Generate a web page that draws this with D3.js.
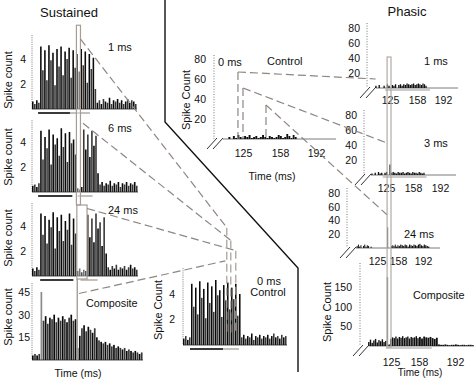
<!DOCTYPE html>
<html><head><meta charset="utf-8">
<script src="https://cdn.jsdelivr.net/npm/d3@7"></script>
<style>body{margin:0;background:#fff}svg{display:block}</style>
</head><body><svg id="c" width="474" height="381"></svg>
<script>
// ---------------- DATA ----------------
// Sustained histograms (52 bins each, spike counts)
const sust1ms = [0.6,0.4,0.7,0.5,
  5.0,3.1,4.7,2.3,5.1,3.9,4.5,1.9,4.8,3.4,5.0,2.7,4.6,4.0,4.9,2.5,4.7,3.3,
  4.4,3.0,
  4.8,3.5,4.6,2.1,4.4,3.2,4.1,1.6,
  0.5,0.7,0.4,0.8,0.6,0.5,0.9,0.4,0.7,0.6,0.8,0.5,0.7,0.4,0.6,0.8,0.5,0.7,0.6,0.4];
const sust6ms = [0.5,0.6,0.4,0.7,
  4.9,2.6,4.4,3.5,5.0,2.2,4.6,3.8,4.3,2.9,5.1,3.6,4.7,2.4,4.8,3.9,4.2,3.0,
  0.3,0.2,0.4,
  5.0,3.4,4.6,2.8,4.9,3.7,4.5,1.5,
  0.6,0.8,0.5,0.7,0.6,0.9,0.5,0.7,0.6,0.8,0.4,0.7,0.6,0.8,0.5,0.7,0.6,0.8,0.5];
const sust24ms = [0.6,0.4,0.7,0.5,
  5.0,3.3,4.8,2.6,4.5,3.9,5.1,2.2,4.7,3.6,4.9,2.8,4.4,3.7,5.0,2.5,4.6,3.4,
  0.4,0.6,0.3,0.5,0.4,
  4.9,3.1,4.6,2.7,5.0,3.8,4.3,2.4,4.7,1.8,
  0.7,0.5,0.8,0.6,0.9,0.5,0.7,0.6,0.8,0.5,0.7,0.9,0.6,0.7,0.5];
const sustComposite = [3,4,3,4,
  45,
  26,29,24,28,27,30,25,28,26,29,27,25,28,30,26,27,
  8,
  16,21,23,19,22,20,18,21,15,
  13,12,11,12,10,11,9,10,8,9,8,7,8,6,7,6,5,6,5,4,5];
const sustControl = [0.5,0.7,0.4,0.6,
  4.8,3.0,4.5,2.4,5.0,3.7,4.4,2.1,4.9,3.3,4.6,2.6,5.1,3.9,4.3,2.2,4.7,3.5,4.9,2.8,4.5,3.6,4.8,2.3,4.0,
  0.6,0.8,0.5,0.7,0.6,0.9,0.4,0.7,0.6,0.8,0.5,0.7,0.6,0.8,0.5,0.7,0.9,0.6,0.7,0.5,0.8,0.6,0.7];
const sustTicks = [2, 4];
const sustCompTicks = [15, 30, 45];

// Phasic histograms (2 ms bins, start time in ms)
const binMs = 2;
const phControlStart = 112;
const phControl = [2,0,3,1,4,2,1,3,2,4,1,2,3,1,2,4,2,1,3,2,1,2,4,3,1,2,5,3,1,4,2];
const ph1msStart = 107;
const ph1ms = [3,0,4,0,0,3,0,5,3,0,4,3,5,0,4,5,3,5,4,6,5,4,5,6,4,5,6,5,4,6,5,3,0,0,0];
const ph3msStart = 107;
const ph3ms = [2,0,3,0,4,2,3,0,3,4,0,14,3,4,3,2,4,3,3,4,2,3,4,3,2,4,3,3,2,4,3,2,3,0,0];
const ph24msStart = 93;
const ph24ms = [3,5,2,4,0,3,5,2,4,3,0,2,
  0,0,0,0,0,0,0,0,0,0,0,0,
  30,0,0,3,
  4,3,5,2,4,3,5,4,3,5,4,2,5,4,3,5,4,3,5,6,4,3,5,4,3,2,0,0];
const phCompStart = 98;
const phComposite = [10,16,8,14,18,9,15,12,17,10,13,
  175,4,
  18,22,20,24,19,23,21,25,20,22,24,19,23,21,22,25,20,23,19,24,22,21,23,20,18,21,
  4,3,3,4,3,2,3,3,4,3,2,3,3,2,3,3,2];
const phTicks = [20, 40, 60, 80];
const phCompTicks = [50, 100, 150];
const timeTicks = [125, 158, 192];

// Stimulus bars (bin ranges) under sustained histograms
const stim1ms = [[3, 18.8], [18.8, 28.7]];
const stim6ms = [[3, 19.8], [22.3, 29.7]];
const stim24ms = [[4, 20.3], [23.8, 32.2]];
const stimControl = [[3.5, 20], [20, 28]];

// ---------------- DRAWING ----------------
const F = '"Liberation Sans", Arial, Helvetica, sans-serif';
const svg = d3.select("#c");
const INK = "#111";
const DASH = "#8e8682";
const fmt = d3.format("d");

function txt(s, x, y, size, anchor, rot) {
  const t = svg.append("text").text(s).attr("font-family", F).attr("font-size", size)
    .attr("fill", INK).attr("text-anchor", anchor || "start");
  if (rot) t.attr("transform", `translate(${x},${y}) rotate(-90)`).attr("dy", "0.35em");
  else t.attr("x", x).attr("y", y);
  return t;
}

function barColor(d, i) { return i % 2 ? "#383838" : "#0a0a0a"; }

function leftHist(c) {
  const x = d3.scaleLinear().domain([0, c.data.length]).range(c.xr);
  const y = d3.scaleLinear().domain(c.ydom).range(c.yr);
  const g = svg.append("g");
  g.append("line").attr("x1", c.xr[0]).attr("x2", c.xr[0]).attr("y1", c.top).attr("y2", y(0))
    .attr("stroke", "#888").attr("stroke-width", 0.9).attr("stroke-dasharray", "1.2,1");
  g.selectAll("rect.b").data(c.data).join("rect").attr("class", "b")
    .attr("x", (d, i) => x(i)).attr("width", (d, i) => x(i + 1) - x(i) - 0.45)
    .attr("y", d => y(d)).attr("height", d => y(0) - y(d))
    .attr("fill", c.color || barColor);
  g.append("line").attr("x1", c.xr[0]).attr("x2", c.xr[1]).attr("y1", y(0)).attr("y2", y(0))
    .attr("stroke", "#222").attr("stroke-width", 0.8);
  const ax = g.append("g").attr("transform", `translate(${c.tickEnd},0)`)
    .call(d3.axisLeft(y).tickValues(c.ticks).tickSize(0).tickPadding(0).tickFormat(fmt));
  ax.select(".domain").remove();
  ax.selectAll("text").attr("font-family", F).attr("font-size", 10.5).attr("fill", INK);
  if (c.stim) {
    g.selectAll("line.s").data(c.stim).join("line").attr("class", "s")
      .attr("x1", d => x(d[0])).attr("x2", d => x(d[1]))
      .attr("y1", y(0) + 4).attr("y2", y(0) + 4)
      .attr("stroke", (d, i) => i === 0 ? "#3a3a3a" : "#c4c0bc").attr("stroke-width", 2);
  }
  return { x, y };
}

function rightHist(c) {
  const x = d3.scaleLinear().domain(timeTicks).range(c.xr);
  const y = d3.scaleLinear().domain(c.ydom).range(c.yr);
  const g = svg.append("g");
  const b = y(0);
  g.append("line").attr("x1", c.axisX).attr("x2", c.axisX).attr("y1", c.top).attr("y2", b)
    .attr("stroke", "#777").attr("stroke-width", 1).attr("stroke-dasharray", "1,1.6");
  if (c.under) g.append("line").attr("x1", x(c.under[0])).attr("x2", x(c.under[1]))
    .attr("y1", b + 2).attr("y2", b + 2).attr("stroke", "#bdb8b4").attr("stroke-width", 1.6);
  g.append("line").attr("x1", c.b0).attr("x2", c.b1).attr("y1", b).attr("y2", b)
    .attr("stroke", "#7a7a7a").attr("stroke-width", 1);
  [0, 6].forEach(o => g.append("line")
    .attr("x1", c.b0 - 16 + o).attr("y1", b + 10).attr("x2", c.b0 - 6 + o).attr("y2", b - 1)
    .attr("stroke", "#333").attr("stroke-width", 1));
  g.selectAll("rect").data(c.data).join("rect")
    .attr("x", (d, i) => x(c.start + i * binMs))
    .attr("width", (d, i) => Math.max(0.8, x(c.start + (i + 1) * binMs) - x(c.start + i * binMs) - 0.3))
    .attr("y", d => y(d)).attr("height", d => b - y(d))
    .attr("fill", d => d > 100 ? "#7c7774" : (d > 12 && c.ydom[1] < 100 ? "#444" : "#111"));
  const ay = g.append("g").attr("transform", `translate(${c.tickEnd},0)`)
    .call(d3.axisLeft(y).tickValues(c.ticks).tickSize(0).tickPadding(0).tickFormat(fmt));
  ay.select(".domain").remove();
  ay.selectAll("text").attr("font-family", F).attr("font-size", 10.5).attr("fill", INK);
  const axb = g.append("g").attr("transform", `translate(0,${c.labelY})`)
    .call(d3.axisBottom(x).tickValues(timeTicks).tickSize(0).tickPadding(0).tickFormat(fmt));
  axb.select(".domain").remove();
  axb.selectAll("text").attr("dy", null).attr("y", 0)
    .attr("font-family", F).attr("font-size", 10.5).attr("fill", INK);
  return { x, y };
}

// ---- Sustained column ----
const s1 = leftHist({ data: sust1ms, xr: [32, 137], ydom: [0, 4], yr: [109, 59], top: 35, ticks: sustTicks, tickEnd: 26, stim: stim1ms });
const s2 = leftHist({ data: sust6ms, xr: [32, 138], ydom: [0, 4], yr: [192, 142], top: 120, ticks: sustTicks, tickEnd: 26, stim: stim6ms });
const s3 = leftHist({ data: sust24ms, xr: [32, 138], ydom: [0, 4], yr: [276, 226], top: 203, ticks: sustTicks, tickEnd: 26, stim: stim24ms });
const s4 = leftHist({ data: sustComposite, xr: [32, 143], ydom: [0, 45], yr: [360, 292], top: 283, ticks: sustCompTicks, tickEnd: 30,
  color: (d, i) => d > 40 ? "#8a8a8a" : barColor(d, i) });
const sc = leftHist({ data: sustControl, xr: [183, 287], ydom: [0, 4], yr: [345, 294], top: 268, ticks: sustTicks, tickEnd: 175, stim: stimControl });

// stimulus windows (sustained)
const WIN = "#a89c94";
svg.append("rect").attr("x", s1.x(22)).attr("y", s1.y(6.7)).attr("width", s1.x(24) - s1.x(22)).attr("height", 205 - s1.y(6.7))
  .attr("fill", "#fff").attr("fill-opacity", 0.35).attr("stroke", WIN).attr("stroke-width", 1.2);
svg.append("rect").attr("x", s3.x(22)).attr("y", 205).attr("width", s3.x(27) - s3.x(22)).attr("height", s3.y(0) + 3 - 205)
  .attr("fill", "#fff").attr("fill-opacity", 0.3).attr("stroke", WIN).attr("stroke-width", 1.2);
svg.append("line").attr("x1", s4.x(21.2)).attr("x2", s4.x(21.2)).attr("y1", s3.y(0) + 3).attr("y2", s4.y(0))
  .attr("stroke", WIN).attr("stroke-width", 1.4);

// dashed connectors (sustained -> control)
const dashed = (x1, y1, x2, y2, col) => svg.append("line").attr("x1", x1).attr("y1", y1).attr("x2", x2).attr("y2", y2)
  .attr("stroke", col || DASH).attr("stroke-width", 1.2).attr("stroke-dasharray", "8,4");
const conn = [
  [s1.x(24), s1.y(5.6), 21.9, 9.2, true],
  [s2.x(25), s2.y(5.5), 23.9, 8.2, true],
  [s3.x(27), s3.y(5.4), 26.4, 7.4, true],
  [s4.x(22), s4.y(44), 21.2, 6.6, false]
];
conn.forEach(c => {
  dashed(c[0], c[1], sc.x(c[2]), sc.y(c[3]));
  if (c[4]) dashed(sc.x(c[2]), sc.y(c[3]), sc.x(c[2]), sc.y(0.8), "#a49c98");
});

// ---- Phasic column ----
const pc = rightHist({ start: phControlStart, data: phControl, xr: [243, 280, 316], ydom: [0, 80], yr: [139, 59], axisX: 214, top: 55,
  b0: 223, b1: 336, ticks: phTicks, tickEnd: 206, labelY: 157 });
const p1 = rightHist({ start: ph1msStart, data: ph1ms, xr: [390, 417, 443], ydom: [0, 80], yr: [88, 28], axisX: 367, top: 23,
  b0: 376, b1: 458, ticks: phTicks, tickEnd: 360, labelY: 104, under: [119, 175] });
const p3 = rightHist({ start: ph3msStart, data: ph3ms, xr: [386, 413, 440], ydom: [0, 80], yr: [175, 115], axisX: 364, top: 110,
  b0: 371, b1: 456, ticks: phTicks, tickEnd: 357, labelY: 192, under: [121, 175] });
const p24 = rightHist({ start: ph24msStart, data: ph24ms, xr: [377, 398, 423], ydom: [0, 80], yr: [248, 193], axisX: 347, top: 188,
  b0: 356, b1: 440, ticks: phTicks, tickEnd: 340, labelY: 265 });
const pcomp = rightHist({ start: phCompStart, data: phComposite, xr: [391, 419, 455], ydom: [0, 150], yr: [346, 287], axisX: 360, top: 263,
  b0: 369, b1: 474, ticks: phCompTicks, tickEnd: 352, labelY: 366, under: [119, 170] });

// dashed connectors (control -> phasic)
const pconn = [
  [120.5, 67, p1, 107.5, 12],
  [125, 51, p3, 126.2, 42.7],
  [145.5, 34, p24, 140.7, 48.3]
];
pconn.forEach(c => {
  dashed(pc.x(c[0]), pc.y(c[1]), pc.x(c[0]), pc.y(0));
  dashed(pc.x(c[0]), pc.y(c[1]), c[2].x(c[3]), c[2].y(c[4]));
});

// stimulus window (phasic)
svg.append("rect").attr("x", pcomp.x(120.4)).attr("y", p1.y(41.3)).attr("width", pcomp.x(125) - pcomp.x(120.4))
  .attr("height", pcomp.y(0) + 1 - p1.y(41.3))
  .attr("fill", "none").attr("stroke", "#b3aaa4").attr("stroke-width", 1.2);

// divider
svg.append("polyline").attr("points", "165,0 165,122 298,268 298,372")
  .attr("fill", "none").attr("stroke", "#111").attr("stroke-width", 1.4);

// ---- Text ----
txt("Sustained", 69, 17, 13, "middle");
txt("Phasic", 407, 16, 13, "middle");
txt("1 ms", 108, 51, 11);
txt("6 ms", 108, 132, 11);
txt("24 ms", 108, 214, 11);
txt("Composite", 86, 307, 10.8);
txt("Time (ms)", 78, 377, 10.5, "middle");
[80, 157, 238, 317].forEach(cy => txt("Spike count", 8, cy, 11, "middle", true));
txt("Spike Count", 158, 310, 11, "middle", true);
txt("0 ms", 269, 285, 11, "middle");
txt("Control", 268, 296, 11, "middle");

txt("Spike Count", 186, 100, 11, "middle", true);
txt("0 ms", 218, 66, 11);
txt("Control", 267, 65, 11);
txt("Time (ms)", 272, 180, 10.5, "middle");
txt("1 ms", 424, 65, 11);
txt("3 ms", 424, 147, 11);
txt("24 ms", 404, 238, 11);
txt("Composite", 413, 299, 10.8);
txt("Spike Count", 327, 312, 11, "middle", true);
txt("Time (ms)", 420, 376, 10, "middle");
</script></body></html>
